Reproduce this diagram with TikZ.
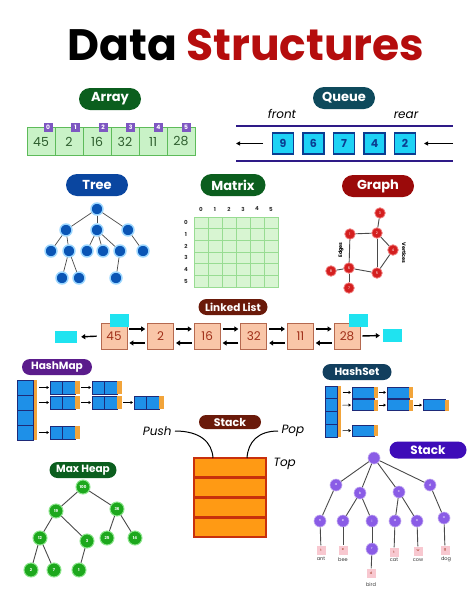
\documentclass[tikz,border=0pt]{standalone}
\usepackage{fontspec}
\setmainfont{Poppins}
\usetikzlibrary{arrows.meta,shapes.misc}
\definecolor{tred}{HTML}{B50D0D}
\definecolor{dgreen}{HTML}{0B5E1E}
\definecolor{qteal}{HTML}{0E4A5C}
\definecolor{tblue}{HTML}{0A46A0}
\definecolor{gred}{HTML}{9B0A0A}
\definecolor{llbrown}{HTML}{6A1A0A}
\definecolor{hmpurple}{HTML}{5B1C8C}
\definecolor{hsnavy}{HTML}{123F5E}
\definecolor{trpurple}{HTML}{3E0CB8}
\definecolor{cellg}{HTML}{C9F2C7}
\definecolor{cellgd}{HTML}{5DBB5A}
\definecolor{celltx}{HTML}{2E5E2E}
\definecolor{idxp}{HTML}{7E57C2}
\definecolor{qcyan}{HTML}{1ED2F5}
\definecolor{qblue}{HTML}{0B3D91}
\definecolor{qline}{HTML}{2E1A87}
\definecolor{nodeblue}{HTML}{0A55B5}
\definecolor{glowblue}{HTML}{9AD6FF}
\definecolor{matg}{HTML}{D8F5D2}
\definecolor{matl}{HTML}{98DC92}
\definecolor{gnode}{HTML}{D41F1F}
\definecolor{gglow}{HTML}{F07A7A}
\definecolor{peach}{HTML}{F9C6A8}
\definecolor{peachd}{HTML}{B5694F}
\definecolor{lltext}{HTML}{A0301A}
\definecolor{cyanb}{HTML}{1FE3F0}
\definecolor{hblue}{HTML}{1E90E8}
\definecolor{hnavy}{HTML}{1E2A78}
\definecolor{horange}{HTML}{F2A43A}
\definecolor{sorange}{HTML}{FF9A14}
\definecolor{sred}{HTML}{C8300C}
\definecolor{hgreen}{HTML}{1DA81D}
\definecolor{hglow}{HTML}{8BE58B}
\definecolor{tpurple}{HTML}{8A5CE6}
\definecolor{tpink}{HTML}{F8C8D0}
\definecolor{edgegray}{HTML}{4A4A4A}
\begin{document}
\begin{tikzpicture}[x=1pt,y=-1pt,
  pill/.style={rounded rectangle, fill=#1, text=white, inner sep=0pt,
     font=\bfseries\fontsize{13}{13}\selectfont, minimum height=22pt},
  spill/.style={rounded rectangle, fill=#1, text=white, inner sep=0pt,
     font=\bfseries\fontsize{10.5}{10.5}\selectfont, minimum height=16pt},
  acell/.style={draw=cellgd, fill=cellg, line width=0.8pt, minimum size=28pt, inner sep=0pt,
     text=celltx, font=\fontsize{12.5}{12.5}\selectfont},
  aidx/.style={fill=idxp, minimum size=9pt, inner sep=0pt, text=white,
     font=\bfseries\fontsize{6}{6}\selectfont},
  qbox/.style={draw=qblue, fill=qcyan, line width=1.1pt, minimum size=21pt, inner sep=0pt,
     text=qblue, font=\bfseries\fontsize{11}{11}\selectfont},
  ital/.style={font=\itshape\fontsize{12}{12}\selectfont},
  tnode/.style={circle, fill=nodeblue, draw=glowblue, line width=1.4pt, minimum size=12pt, inner sep=0pt},
  tedge/.style={edgegray, line width=0.7pt},
  mlab/.style={font=\bfseries\fontsize{5.5}{5.5}\selectfont, text=black!80},
  gnd/.style={circle, fill=gnode, draw=gglow, line width=0.8pt, minimum size=10.5pt, inner sep=0pt,
     text=white, font=\fontsize{3.5}{3.5}\selectfont},
  llbox/.style={draw=peachd, fill=peach, line width=0.8pt, minimum size=26pt, inner sep=0pt,
     text=lltext, font=\fontsize{12}{12}\selectfont},
  cyb/.style={fill=cyanb, inner sep=0pt},
  llarr/.style={-{Triangle[length=4pt,width=5pt]}, line width=1.4pt, black},
  smarr/.style={-{Triangle[length=2.5pt,width=3pt]}, line width=0.7pt, black},
  hnd/.style={circle, fill=hgreen, draw=hglow, line width=1pt, minimum size=14pt, inner sep=0pt,
     text=white, font=\bfseries\fontsize{4}{4}\selectfont},
  trn/.style={circle, fill=tpurple, draw=tpurple!50, line width=0.6pt, minimum size=12pt, inner sep=0pt,
     text=white, font=\fontsize{3.5}{3.5}\selectfont},
  trleaf/.style={fill=tpink, minimum size=9pt, inner sep=0pt, text=lltext, font=\fontsize{3.5}{3.5}\selectfont},
  trword/.style={font=\fontsize{5}{5}\selectfont, text=black!80},
  hmnode/.pic={
    \fill[hblue] (0,-6.5) rectangle (25,6.5);
    \draw[hnavy,line width=0.8pt] (0,-6.5) rectangle (25,6.5) (12.5,-6.5) -- (12.5,6.5);
    \fill[horange] (25,-6.5) rectangle (30,6.5);
    \node[inner sep=0pt, minimum width=30pt, minimum height=13pt, anchor=west] (-n) at (0,0) {};
  },
  hsnode/.pic={
    \fill[hblue] (0,-5.5) rectangle (22,5.5);
    \draw[hnavy,line width=0.8pt] (0,-5.5) rectangle (22,5.5);
    \fill[horange] (22,-5.5) rectangle (25.5,5.5);
    \node[inner sep=0pt, minimum width=25.5pt, minimum height=11pt, anchor=west] (-n) at (0,0) {};
  }
]
\useasboundingbox[fill=white] (0,0) rectangle (474,592);

% Title
\node[font=\bfseries\fontsize{44}{44}\selectfont] (title) at (246,45) {Data \textcolor{tred}{Structures}};

% ---------- Array
\node[pill=dgreen, minimum width=62pt] (arrL) at (110,99) {Array};
\foreach \v [count=\i from 0] in {45,2,16,32,11,28} {
  \node[acell] (a\i) at ({41+28*\i},141.5) {\v};
  \node[aidx] (ai\i) at ({48+27.6*\i},127.5) {\i};
}

% ---------- Queue
\node[pill=qteal, minimum width=62pt] (queL) at (344,98) {Queue};
\node[ital] (front) at (282,114) {front};
\node[ital] (rear) at (406,115) {rear};
\coordinate (ql1) at (236,126); \coordinate (ql2) at (453,126);
\coordinate (ql3) at (236,161); \coordinate (ql4) at (453,161);
\draw[qline, line width=2pt] (ql1) -- (ql2);
\draw[qline, line width=2pt] (ql3) -- (ql4);
\foreach \v [count=\i from 0] in {9,6,7,4,2}
  \node[qbox] (q\i) at ({283+30.5*\i},143.5) {\v};
\coordinate (qa1) at (263,143.5); \coordinate (qa2) at (236,143.5);
\coordinate (qa3) at (453,143.5); \coordinate (qa4) at (424,143.5);
\draw[-{Triangle[length=4pt,width=4pt]}, line width=1pt] (qa1) -- (qa2);
\draw[-{Triangle[length=4pt,width=4pt]}, line width=1pt] (qa3) -- (qa4);

% ---------- Tree
\node[pill=tblue, minimum width=62pt] (treeL) at (97,185) {Tree};
\node[tnode] (t0) at (97,209) {};
\node[tnode] (t1) at (66,230) {};
\node[tnode] (t2) at (97,230) {};
\node[tnode] (t3) at (128,230) {};
\node[tnode] (t4) at (51,251) {};
\node[tnode] (t5) at (69,251) {};
\node[tnode] (t6) at (87,251) {};
\node[tnode] (t7) at (103,251) {};
\node[tnode] (t8) at (120,251) {};
\node[tnode] (t9) at (143,251) {};
\node[tnode] (t10) at (62,278) {};
\node[tnode] (t11) at (79,278) {};
\node[tnode] (t12) at (116,278) {};
\foreach \a/\b in {t0/t1,t0/t2,t0/t3,t1/t4,t1/t5,t2/t6,t2/t7,t2/t8,t3/t9,t5/t10,t5/t11,t8/t12}
  \draw[tedge] (\a) -- (\b);

% ---------- Matrix
\node[pill=dgreen, minimum width=65pt] (matL) at (233,185) {Matrix};
\draw[matl, fill=matg, line width=0.8pt] (194,217) rectangle (278,287);
\foreach \i in {1,...,5} {
  \draw[matl, line width=0.8pt] ({194+14*\i},217) -- ++(0,70);
  \draw[matl, line width=0.8pt] (194,{217+11.667*\i}) -- ++(84,0);
}
\foreach \i in {0,...,5} {
  \node[mlab] (mc\i) at ({201+14*\i},209) {\i};
  \node[mlab] (mr\i) at (186,{222.8+11.667*\i}) {\i};
}

% ---------- Graph
\node[pill=gred, minimum width=72pt] (grL) at (378,186) {Graph};
\node[gnd] (g3) at (380,213) {3};
\node[gnd] (g1) at (350,234) {1};
\node[gnd] (g2) at (377,233) {2};
\node[gnd] (g4) at (393,250) {4};
\node[gnd] (g6) at (349,268) {6};
\node[gnd] (g5) at (377,273) {5};
\node[gnd] (g8) at (331,271) {8};
\node[gnd] (g7) at (349,288) {7};
\foreach \a/\b in {g3/g2,g1/g2,g2/g4,g2/g5,g4/g5,g1/g6,g6/g5,g6/g8,g6/g7}
  \draw[tedge, line width=0.9pt] (\a) -- (\b);
\node[rotate=90, font=\bfseries\fontsize{5}{5}\selectfont] (edges) at (341,250) {Edges};
\node[rotate=-90, font=\bfseries\fontsize{5}{5}\selectfont] (verts) at (404,253) {Vertices};

% ---------- Linked list
\node[spill=llbrown, minimum width=69pt] (llL) at (233,307) {Linked List};
\foreach \v [count=\i from 0] in {45,2,16,32,11,28}
  \node[llbox] (l\i) at ({114+46.6*\i},336) {\v};
\foreach \i [evaluate=\i as \j using int(\i+1)] in {0,...,4} {
  \draw[llarr, shorten <=2pt, shorten >=2pt] ([yshift=7pt]l\i.east) -- ([yshift=7pt]l\j.west);
  \draw[llarr, shorten <=2pt, shorten >=2pt] ([yshift=-7pt]l\j.west) -- ([yshift=-7pt]l\i.east);
}
\node[cyb, minimum width=19pt, minimum height=13pt] (c45) at (119.5,320.5) {};
\node[cyb, minimum width=19pt, minimum height=13pt] (c28) at (358.5,320.5) {};
\node[cyb, minimum width=22pt, minimum height=12pt] (cl) at (66,337) {};
\node[cyb, minimum width=19pt, minimum height=13pt] (cr) at (392.5,335.5) {};
\draw[llarr, shorten <=4pt, shorten >=4pt] (l0.west) -- (cl.east);
\draw[llarr, shorten <=2pt, shorten >=3pt] (l5.east) -- (cr.west);

% ---------- HashMap
\node[spill=hmpurple, minimum width=70pt] (hmL) at (57,367) {HashMap};
\fill[horange] (33,380) rectangle (36.5,440);
\foreach \i in {0,...,3} {
  \fill[hblue] (17,{380+15*\i}) rectangle (33,{395+15*\i});
  \draw[hnavy, line width=0.8pt] (17,{380+15*\i}) rectangle (33,{395+15*\i});
  \coordinate (mb\i) at (37,{387.5+15*\i});
}
\pic (m01) at (50,387.5) {hmnode};
\pic (m02) at (92,387.5) {hmnode};
\pic (m11) at (50,402.5) {hmnode};
\pic (m12) at (92,402.5) {hmnode};
\pic (m13) at (134,402.5) {hmnode};
\pic (m31) at (50,432.5) {hmnode};
\draw[smarr, shorten <=2pt, shorten >=1pt] (mb0) -- (m01-n.west);
\draw[smarr, shorten <=1pt, shorten >=1pt] (m01-n.east) -- (m02-n.west);
\draw[smarr, shorten <=2pt, shorten >=1pt] (mb1) -- (m11-n.west);
\draw[smarr, shorten <=1pt, shorten >=1pt] (m11-n.east) -- (m12-n.west);
\draw[smarr, shorten <=1pt, shorten >=1pt] (m12-n.east) -- (m13-n.west);
\draw[smarr, shorten <=2pt, shorten >=1pt] (mb3) -- (m31-n.west);

% ---------- HashSet
\node[spill=hsnavy, minimum width=69pt] (hsL) at (357,372) {HashSet};
\fill[horange] (337,386) rectangle (341,437);
\foreach \i in {0,...,3} {
  \fill[hblue] (325,{386+12.75*\i}) rectangle (337,{398.75+12.75*\i});
  \draw[hnavy, line width=0.8pt] (325,{386+12.75*\i}) rectangle (337,{398.75+12.75*\i});
  \coordinate (sb\i) at (341.5,{392.4+12.75*\i});
}
\pic (s01) at (352,392.4) {hsnode};
\pic (s02) at (387,392.4) {hsnode};
\pic (s11) at (352,405.1) {hsnode};
\pic (s12) at (387,405.1) {hsnode};
\pic (s13) at (423,405.1) {hsnode};
\pic (s31) at (352,430.6) {hsnode};
\draw[smarr, shorten <=1pt, shorten >=1pt] (sb0) -- (s01-n.west);
\draw[smarr, shorten <=1pt, shorten >=1pt] (s01-n.east) -- (s02-n.west);
\draw[smarr, shorten <=1pt, shorten >=1pt] (sb1) -- (s11-n.west);
\draw[smarr, shorten <=1pt, shorten >=1pt] (s11-n.east) -- (s12-n.west);
\draw[smarr, shorten <=1pt, shorten >=1pt] (s12-n.east) -- (s13-n.west);
\draw[smarr, shorten <=1pt, shorten >=1pt] (sb3) -- (s31-n.west);

% ---------- Stack (middle)
\node[spill=llbrown, minimum width=62pt, minimum height=14pt, font=\bfseries\fontsize{11}{11}\selectfont] (stL) at (230,422) {Stack};
\node[fill=sorange, draw=sred, line width=1.2pt, minimum width=72pt, minimum height=79pt, inner sep=0pt] (stk) at (230,497.5) {};
\foreach \yy in {477.5,497.5,517.5}
  \draw[sred, line width=2.8pt] (stk.west |- 0,\yy) -- (stk.east |- 0,\yy);
\node[ital, anchor=east] (push) at (175,431) {Push};
\node[ital, anchor=west] (pop) at (278,431) {Pop};
\node[ital, anchor=west] (top) at (270,464) {Top};
\coordinate (pushin) at (213,458);
\coordinate (popout) at (247,458);
\draw[line width=1pt] (push.east) .. controls (200,431) and (212,442) .. (pushin);
\draw[line width=1pt] (pop.west) .. controls (258,431) and (248,442) .. (popout);

% ---------- Max Heap
\node[spill=dgreen, minimum width=67pt] (mhL) at (83,470) {Max Heap};
\node[hnd] (h100) at (83,487) {100};
\node[hnd] (h19) at (56,511) {19};
\node[hnd] (h36) at (117,509) {36};
\node[hnd] (h12) at (40,538) {12};
\node[hnd] (h3) at (87,541) {3};
\node[hnd] (h25) at (107,538) {25};
\node[hnd] (h14) at (135,538) {14};
\node[hnd] (h2) at (31,570) {2};
\node[hnd] (h7) at (54,570) {7};
\node[hnd] (h1) at (79,570) {1};
\foreach \a/\b in {h100/h19,h100/h36,h19/h12,h19/h3,h36/h25,h36/h14,h12/h2,h12/h7,h3/h1}
  \draw[tedge, line width=0.9pt] (\a) -- (\b);

% ---------- Stack (trie)
\node[pill=trpurple, minimum width=77pt, minimum height=17pt, font=\bfseries\fontsize{12}{12}\selectfont] (trL) at (428,450) {Stack};
\node[trn] (r0) at (374,458) {};
\node[trn] (ra) at (336,485) {a};
\node[trn] (rb) at (360,493) {b};
\node[trn] (rc) at (399,492) {c};
\node[trn] (rd) at (430,485) {d};
\node[trn] (rn) at (320,521) {n};
\node[trn] (re) at (343,521) {e};
\node[trn] (ri) at (372,521) {i};
\node[trn] (rca) at (395,521) {a};
\node[trn] (ro) at (417,521) {o};
\node[trn] (rdo) at (444,518) {o};
\node[trn] (rr) at (372,549) {r};
\node[trleaf] (lt) at (321,550) {t};
\node[trleaf] (le) at (343,550) {e};
\node[trleaf] (lct) at (394,552) {t};
\node[trleaf] (lw) at (418,551) {w};
\node[trleaf] (lg) at (445,550) {g};
\node[trleaf] (ld) at (371,573) {d};
\foreach \a/\b in {r0/ra,r0/rb,r0/rc,r0/rd,ra/rn,rb/re,rb/ri,rc/rca,rc/ro,rd/rdo,ri/rr,rr/ld,rn/lt,re/le,rca/lct,ro/lw,rdo/lg}
  \draw[tedge, line width=0.9pt] (\a) -- (\b);
\node[trword] (w1) at (321,559) {ant};
\node[trword] (w2) at (343,559.5) {bee};
\node[trword] (w3) at (394,560) {cat};
\node[trword] (w4) at (418,560) {cow};
\node[trword] (w5) at (446,559.5) {dog};
\node[trword] (w6) at (371,585) {bird};
\end{tikzpicture}
\end{document}
